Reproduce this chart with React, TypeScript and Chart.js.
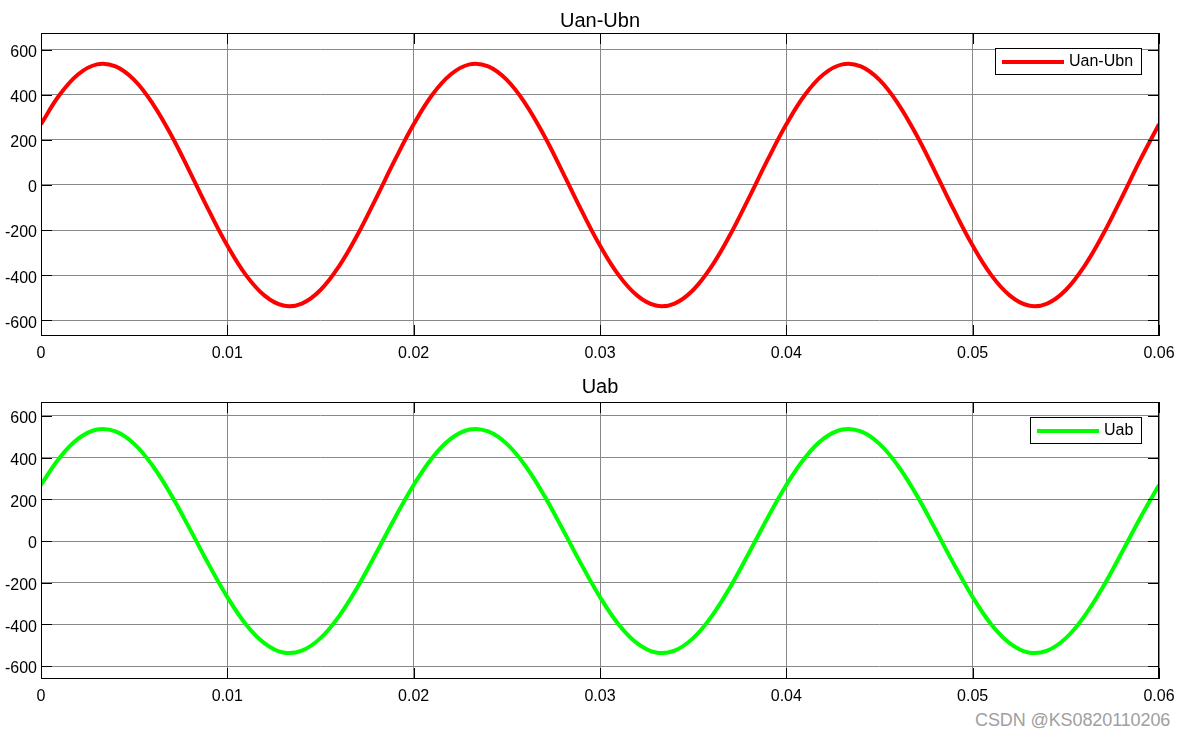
import { useEffect, useRef } from 'react'
import { Chart, registerables } from 'chart.js'

Chart.register(...registerables)

const FONT = '"Liberation Sans", Arial, Helvetica, sans-serif'
Chart.defaults.font.family = FONT

// time samples (s), every 1 ms
const TIME = [
  0, 0.001, 0.002, 0.003, 0.004, 0.005, 0.006, 0.007, 0.008, 0.009,
  0.01, 0.011, 0.012, 0.013, 0.014, 0.015, 0.016, 0.017, 0.018, 0.019,
  0.02, 0.021, 0.022, 0.023, 0.024, 0.025, 0.026, 0.027, 0.028, 0.029,
  0.03, 0.031, 0.032, 0.033, 0.034, 0.035, 0.036, 0.037, 0.038, 0.039,
  0.04, 0.041, 0.042, 0.043, 0.044, 0.045, 0.046, 0.047, 0.048, 0.049,
  0.05, 0.051, 0.052, 0.053, 0.054, 0.055, 0.056, 0.057, 0.058, 0.059,
  0.06,
]

const UAN_UBN = [
  270, 400, 491, 535, 526, 466, 360, 219, 56, -112,
  -269, -400, -491, -535, -526, -466, -360, -219, -56, 112,
  269, 400, 491, 535, 526, 466, 360, 219, 56, -112,
  -269, -400, -491, -535, -526, -466, -360, -219, -56, 112,
  269, 400, 491, 535, 526, 466, 360, 219, 56, -112,
  -269, -400, -491, -535, -526, -466, -360, -219, -56, 112,
  269,
]

const UAB = [
  270, 400, 491, 535, 526, 466, 360, 219, 56, -112,
  -269, -400, -491, -535, -526, -466, -360, -219, -56, 112,
  269, 400, 491, 535, 526, 466, 360, 219, 56, -112,
  -269, -400, -491, -535, -526, -466, -360, -219, -56, 112,
  269, 400, 491, 535, 526, 466, 360, 219, 56, -112,
  -269, -400, -491, -535, -526, -466, -360, -219, -56, 112,
  269,
]

const X_TICKS = [0, 0.01, 0.02, 0.03, 0.04, 0.05, 0.06]
const Y_TICKS = [-600, -400, -200, 0, 200, 400, 600]

// MATLAB-ish frame: box, inward ticks, title and boxed legend
const matlabFrame = {
  id: 'matlabFrame',
  afterDraw(chart: any, _args: any, opts: any) {
    const { ctx, chartArea: a, scales } = chart
    ctx.save()
    ctx.strokeStyle = '#000'
    ctx.lineWidth = 1
    ctx.strokeRect(a.left + 0.5, a.top + 0.5, a.right - a.left - 1, a.bottom - a.top - 1)

    ctx.beginPath()
    X_TICKS.forEach(v => {
      const x = Math.round(scales.x.getPixelForValue(v)) + 0.5
      ctx.moveTo(x, a.top)
      ctx.lineTo(x, a.top + 11)
      ctx.moveTo(x, a.bottom)
      ctx.lineTo(x, a.bottom - 11)
    })
    Y_TICKS.forEach(v => {
      const y = Math.round(scales.y.getPixelForValue(v)) + 0.5
      ctx.moveTo(a.left, y)
      ctx.lineTo(a.left + 11, y)
      ctx.moveTo(a.right, y)
      ctx.lineTo(a.right - 11, y)
    })
    ctx.stroke()

    ctx.fillStyle = '#000'
    ctx.font = `20px ${FONT}`
    ctx.textAlign = 'center'
    ctx.textBaseline = 'alphabetic'
    ctx.fillText(opts.title, (a.left + a.right) / 2, 27)

    ctx.font = `16px ${FONT}`
    const tw = ctx.measureText(opts.label).width
    const w = Math.round(7 + 62 + 5 + tw + 8)
    const h = 26
    const right = a.right - 18
    const top = a.top + 15
    const left = right - w
    ctx.fillStyle = '#fff'
    ctx.fillRect(left, top, w, h)
    ctx.strokeStyle = '#000'
    ctx.lineWidth = 1
    ctx.strokeRect(left + 0.5, top + 0.5, w, h)
    ctx.beginPath()
    ctx.strokeStyle = opts.color
    ctx.lineWidth = 4
    ctx.moveTo(left + 7, top + h / 2 + 1)
    ctx.lineTo(left + 69, top + h / 2 + 1)
    ctx.stroke()
    ctx.fillStyle = '#000'
    ctx.textAlign = 'left'
    ctx.textBaseline = 'middle'
    ctx.fillText(opts.label, left + 74, top + h / 2 + 1)
    ctx.restore()
  },
}

type ScopeProps = {
  title: string
  label: string
  color: string
  values: number[]
  yMin: number
  yMax: number
  top: number
  height: number
  padTop: number
}

function Scope({ title, label, color, values, yMin, yMax, top, height, padTop }: ScopeProps) {
  const canvasRef = useRef<HTMLCanvasElement>(null)
  const chartRef = useRef<any>(null)

  useEffect(() => {
    if (!canvasRef.current) return
    if (chartRef.current) chartRef.current.destroy()

    chartRef.current = new Chart(canvasRef.current, {
      type: 'line',
      data: {
        datasets: [
          {
            label,
            data: TIME.map((t, i) => ({ x: t, y: values[i] })),
            borderColor: color,
            borderWidth: 4,
            pointRadius: 0,
            tension: 0.4,
            fill: false,
          },
        ],
      },
      options: {
        animation: false,
        responsive: true,
        maintainAspectRatio: false,
        layout: { padding: { top: padTop, right: 27, left: 0, bottom: 0 } },
        plugins: {
          legend: { display: false },
          title: { display: false },
          tooltip: { enabled: false },
          matlabFrame: { title, label, color },
        } as any,
        scales: {
          x: {
            type: 'linear',
            min: 0,
            max: 0.06,
            afterBuildTicks: (s: any) => { s.ticks = X_TICKS.map(value => ({ value })) },
            afterFit: (s: any) => { s.height = 30 },
            ticks: {
              callback: (v: any) => String(v),
              color: '#000',
              font: { size: 16 },
              padding: 8,
              maxRotation: 0,
              autoSkip: false,
            },
            grid: { color: '#888888', lineWidth: 1, drawTicks: false },
            border: { display: false },
          },
          y: {
            type: 'linear',
            min: yMin,
            max: yMax,
            afterBuildTicks: (s: any) => { s.ticks = Y_TICKS.map(value => ({ value })) },
            afterFit: (s: any) => { s.width = 41 },
            ticks: {
              callback: (v: any) => String(v),
              color: '#000',
              font: { size: 16 },
              padding: 4,
              labelOffset: 3,
              autoSkip: false,
            },
            grid: { color: '#888888', lineWidth: 1, drawTicks: false },
            border: { display: false },
          },
        },
      },
      plugins: [matlabFrame],
    })

    return () => { if (chartRef.current) chartRef.current.destroy() }
  }, [title, label, color, values, yMin, yMax, padTop])

  return (
    <div style={{ position: 'absolute', left: 0, top, width: 1186, height }}>
      <canvas ref={canvasRef} />
    </div>
  )
}

export default function App() {
  return (
    <div style={{ position: 'fixed', left: 0, top: 0, width: 1186, height: 736, background: '#fff', overflow: 'hidden' }}>
      <Scope title="Uan-Ubn" label="Uan-Ubn" color="#ff0000" values={UAN_UBN} yMin={-670} yMax={674} top={0} height={366} padTop={33} />
      <Scope title="Uab" label="Uab" color="#00ff00" values={UAB} yMin={-662} yMax={667} top={366} height={343} padTop={36} />
      <div
        style={{
          position: 'absolute', left: 975, top: 711, fontFamily: FONT, fontSize: 18, lineHeight: '18px',
          color: '#a0a0a0', whiteSpace: 'nowrap', letterSpacing: -0.1,
        }}
      >
        CSDN @KS0820110206
      </div>
    </div>
  )
}
